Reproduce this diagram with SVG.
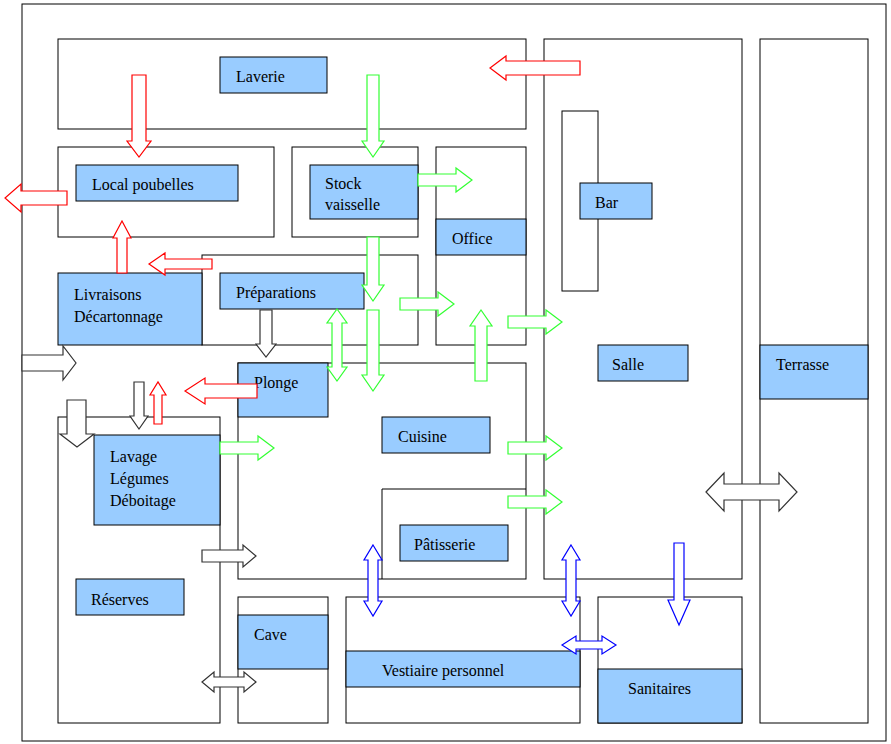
<svg xmlns="http://www.w3.org/2000/svg" width="891" height="744" viewBox="0 0 891 744">
<style>
.r{fill:#fff;stroke:#000;stroke-width:1}
.l{fill:#99CCFF;stroke:#000;stroke-width:1}
text{font-family:"Liberation Serif",serif;font-size:16px;fill:#000}
.a{fill:#fff;stroke-width:1.2}
.red{stroke:#ff0000}.blk{stroke:#333}.grn{stroke:#33ff33}.blu{stroke:#0000ff}
</style>
<rect x="0" y="0" width="891" height="744" fill="#fff"/>
<rect class="r" x="22" y="4" width="864" height="737"/>
<g id="laverie"><rect class="r" x="58" y="39" width="468" height="90"/><rect class="l" x="220" y="57" width="107" height="36"/><text x="236" y="82">Laverie</text></g>
<g id="poubelles"><rect class="r" x="58" y="147" width="216" height="90"/><rect class="l" x="76" y="165" width="162" height="36"/><text x="92" y="190">Local poubelles</text></g>
<g id="stock"><rect class="r" x="292" y="147" width="126" height="90"/><rect class="l" x="310" y="165" width="108" height="54"/><text x="325" y="189">Stock</text><text x="325" y="210">vaisselle</text></g>
<g id="office"><rect class="r" x="436" y="147" width="90" height="198"/><rect class="l" x="436" y="219" width="90" height="36"/><text x="452" y="244">Office</text></g>
<g id="salle"><rect class="r" x="544" y="39" width="198" height="540"/><rect class="r" x="562" y="111" width="36" height="180"/><rect class="l" x="580" y="183" width="72" height="36"/><text x="595" y="208">Bar</text><rect class="l" x="598" y="345" width="90" height="36"/><text x="612" y="370">Salle</text></g>
<g id="terrasse"><rect class="r" x="760" y="39" width="108" height="684"/><rect class="l" x="760" y="345" width="108" height="54"/><text x="776" y="370">Terrasse</text></g>
<g id="preparations"><rect class="r" x="202" y="255" width="216" height="90"/><rect class="l" x="220" y="273" width="144" height="36"/><text x="236" y="298">Préparations</text></g>
<g id="livraisons"><rect class="l" x="58" y="273" width="144" height="72"/><text x="74" y="300">Livraisons</text><text x="74" y="322">Décartonnage</text></g>
<g id="cuisine"><rect class="r" x="238" y="363" width="288" height="216"/><rect class="l" x="238" y="363" width="90" height="54"/><text x="254" y="388">Plonge</text><rect class="l" x="382" y="417" width="108" height="36"/><text x="398" y="442">Cuisine</text><polyline points="382,579 382,489 526,489" fill="none" stroke="#000"/><rect class="l" x="400" y="525" width="108" height="36"/><text x="414" y="550">Pâtisserie</text></g>
<g id="lavage"><rect class="r" x="58" y="417" width="162" height="306"/><rect class="l" x="94" y="435" width="126" height="90"/><text x="110" y="462">Lavage</text><text x="110" y="484">Légumes</text><text x="110" y="506">Déboitage</text><rect class="l" x="76" y="579" width="108" height="36"/><text x="91" y="605">Réserves</text></g>
<g id="cave"><rect class="r" x="238" y="597" width="90" height="126"/><rect class="l" x="238" y="615" width="90" height="54"/><text x="254" y="640">Cave</text></g>
<g id="vestiaire"><rect class="r" x="346" y="597" width="234" height="126"/><rect class="l" x="346" y="651" width="234" height="36"/><text x="382" y="676">Vestiaire personnel</text></g>
<g id="sanitaires"><rect class="r" x="598" y="597" width="144" height="126"/><rect class="l" x="598" y="669" width="144" height="54"/><text x="628" y="694">Sanitaires</text></g>
<g id="connectors">
<polygon class="a red" points="580,61 506,61 506,56 490,68 506,80 506,75 580,75"/>
<polygon class="a red" points="132,75 132,141 127,141 139,157 151,141 146,141 146,75"/>
<polygon class="a red" points="67,191 21,191 21,184 5,198 21,212 21,205 67,205"/>
<polygon class="a red" points="117,273 117,238 113,238 122,221 131,238 127,238 127,273"/>
<polygon class="a red" points="212,259 165,259 165,253 149,264 165,275 165,269 212,269"/>
<polygon class="a red" points="154,424 154,395 150,395 158,382 166,395 162,395 162,424"/>
<polygon class="a red" points="257,384 205,384 205,378 185,391 205,404 205,398 257,398"/>
<polygon class="a blk" points="22,355 63,355 63,346 76,363 63,380 63,371 22,371"/>
<polygon class="a blk" points="260,310 260,344 256,344 266,357 276,344 272,344 272,310"/>
<polygon class="a blk" points="67,400 67,434 60,434 77,447 94,434 86,434 86,400"/>
<polygon class="a blk" points="134,382 134,416 130,416 139,429 148,416 144,416 144,382"/>
<polygon class="a blk" points="202,550 243,550 243,545 256,556 243,567 243,562 202,562"/>
<polygon class="a blk" points="202,682 214,672 214,677 244,677 244,672 256,682 244,692 244,687 214,687 214,692"/>
<polygon class="a blk" points="706,492 724,473 724,484 779,484 779,473 797,492 779,511 779,500 724,500 724,511"/>
<polygon class="a grn" points="367,75 367,141 362,141 373,157 384,141 379,141 379,75"/>
<polygon class="a grn" points="418,174 456,174 456,168 472,180 456,192 456,186 418,186"/>
<polygon class="a grn" points="367,237 367,285 362,285 373,301 384,285 379,285 379,237"/>
<polygon class="a grn" points="400,298 438,298 438,292 454,304 438,316 438,310 400,310"/>
<polygon class="a grn" points="337,309 347,323 342,323 342,367 347,367 337,381 327,367 332,367 332,323 327,323"/>
<polygon class="a grn" points="367,310 367,375 362,375 373,391 384,375 379,375 379,310"/>
<polygon class="a grn" points="475,381 475,326 470,326 481,310 492,326 487,326 487,381"/>
<polygon class="a grn" points="508,316 546,316 546,310 562,322 546,334 546,328 508,328"/>
<polygon class="a grn" points="220,442 258,442 258,436 274,448 258,460 258,454 220,454"/>
<polygon class="a grn" points="508,442 546,442 546,436 562,448 546,460 546,454 508,454"/>
<polygon class="a grn" points="508,496 546,496 546,490 562,502 546,514 546,508 508,508"/>
<polygon class="a blu" points="373,545 382,560 378,560 378,601 382,601 373,616 364,601 368,601 368,560 364,560"/>
<polygon class="a blu" points="571,545 580,560 576,560 576,601 580,601 571,616 562,601 566,601 566,560 562,560"/>
<polygon class="a blu" points="562,645 576,636 576,641 602,641 602,636 616,645 602,654 602,649 576,649 576,654"/>
<polygon class="a blu" points="674,543 674,600 668,600 679,625 690,600 684,600 684,543"/>
</g>
</svg>
